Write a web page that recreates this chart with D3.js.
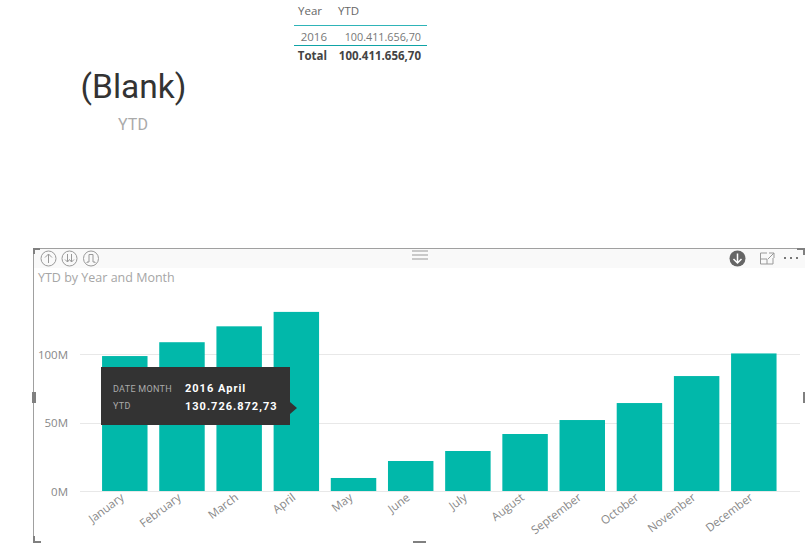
<!DOCTYPE html>
<html>
<head>
<meta charset="utf-8">
<script src="https://cdn.jsdelivr.net/npm/d3@7"></script>
<style>
html, body { margin: 0; padding: 0; background: #fff; overflow: hidden; }
text { font-family: "Open Sans", sans-serif; }
</style>
</head>
<body>
<svg id="chart" width="805" height="543"></svg>
<script>
const months = ["January", "February", "March", "April", "May", "June", "July", "August", "September", "October", "November", "December"];
const ytdValues = [98.5, 108.6, 120.2, 130.73, 9.5, 21.9, 29.2, 41.6, 51.8, 64.2, 83.9, 100.41];
const yTicks = [0, 50, 100];
const tableHeader = ["Year", "YTD"];
const tableRow = ["2016", "100.411.656,70"];
const tableTotal = ["Total", "100.411.656,70"];
const tooltipLabels = ["DATE MONTH", "YTD"];
const tooltipValues = ["2016 April", "130.726.872,73"];

const svg = d3.select("#chart");

const x = d3.scaleBand().domain(months).range([96.2, 782.4]).paddingInner(0.205).paddingOuter(0.1025);
const y = d3.scaleLinear().domain([0, 100]).range([491, 354]);

// Table
const table = svg.append("g");
table.append("text").attr("x", 298).attr("y", 15).attr("font-size", 11.5).attr("fill", "#666").text(tableHeader[0]);
table.append("text").attr("x", 338).attr("y", 15).attr("font-size", 11.5).attr("fill", "#666").text(tableHeader[1]);
table.append("rect").attr("x", 294).attr("width", 133).attr("y", 25).attr("height", 1).attr("fill", "#2fb4b8");
table.append("rect").attr("x", 294).attr("width", 133).attr("y", 45).attr("height", 1).attr("fill", "#0fa3a6");
table.append("text").attr("x", 327).attr("y", 41).attr("text-anchor", "end").attr("font-size", 11.5).attr("fill", "#777").text(tableRow[0]);
table.append("text").attr("x", 421).attr("y", 41).attr("text-anchor", "end").attr("font-size", 10.8).attr("fill", "#777").text(tableRow[1]);
table.append("text").attr("x", 327).attr("y", 60).attr("text-anchor", "end").attr("font-size", 11.5).attr("font-weight", 700).attr("fill", "#444").text(tableTotal[0]);
table.append("text").attr("x", 421).attr("y", 60).attr("text-anchor", "end").attr("font-size", 11.5).attr("font-weight", 700).attr("fill", "#444").text(tableTotal[1]);

// Card
svg.append("text").attr("x", 133.5).attr("y", 98).attr("text-anchor", "middle")
    .attr("font-size", 33.5).attr("fill", "#333").style("font-family", "Roboto, sans-serif").text("(Blank)");
svg.append("text").attr("x", 133).attr("y", 130).attr("text-anchor", "middle")
    .attr("font-size", 16).attr("fill", "#aaa").style("font-family", "Roboto, sans-serif").text("YTD");

// Visual header and frame
svg.append("rect").attr("x", 34).attr("y", 249).attr("width", 771).attr("height", 19).attr("fill", "#f9f9f9");
svg.append("path").attr("d", "M33.5,543V248.5H805").attr("fill", "none").attr("stroke", "#a0a0a0");
svg.append("path").attr("d", "M33,254V248H40V250H35V254Z M33,536H35V541H41V543H33Z M32,392H36V403H32Z").attr("fill", "#808080");
svg.append("path").attr("d", "M797,248H805V255H803V250H797Z M803,392H807V403H803Z M413,541H426V543H413Z").attr("fill", "#808080");
svg.append("path").attr("d", "M412,251H428M412,255H428M412,259H428").attr("stroke", "#999").attr("fill", "none");

const headerIcons = svg.append("g").attr("fill", "none").attr("stroke", "#999");
[48.5, 69.5, 91].forEach(cx => headerIcons.append("circle").attr("cx", cx).attr("cy", 258.5).attr("r", 7.5));
headerIcons.append("path").attr("d", "M48.5,263V254M45,257.5L48.5,254L52,257.5");
headerIcons.append("path").attr("d", "M67.5,254V262M65,259.5L67.5,262L69.5,259.5M71.5,254V262M69.5,259.5L71.5,262L74,259.5");
headerIcons.append("path").attr("d", "M87,263V262H89V254.5H93V262H95V263");

svg.append("circle").attr("cx", 737.5).attr("cy", 258.5).attr("r", 8).attr("fill", "#666");
svg.append("path").attr("d", "M737.5,253.5V263M733.5,259L737.5,263L741.5,259").attr("fill", "none").attr("stroke", "#fff").attr("stroke-width", 1.5);
svg.append("path").attr("d", "M767,253H760.5V264H773V258M767,264V259H760.5M769,253H774V258M774,253L768,259").attr("fill", "none").attr("stroke", "#999");
svg.selectAll(".dot").data([784, 790, 796]).enter().append("rect")
    .attr("class", "dot").attr("x", d => d).attr("y", 257).attr("width", 2).attr("height", 2).attr("fill", "#777");

svg.append("text").attr("x", 38).attr("y", 282).attr("font-size", 12.5).attr("fill", "#a6a6a6").text("YTD by Year and Month");

// Gridlines
svg.selectAll(".grid").data(yTicks).enter().append("line")
    .attr("class", "grid")
    .attr("x1", 80).attr("x2", 800)
    .attr("y1", d => Math.round(y(d)) + 0.5).attr("y2", d => Math.round(y(d)) + 0.5)
    .attr("stroke", "#e8e8e8");

// Y labels
svg.selectAll(".ylabel").data(yTicks).enter().append("text")
    .attr("class", "ylabel")
    .attr("x", 68).attr("y", d => y(d) + 4.5)
    .attr("text-anchor", "end").attr("font-size", 11.5).attr("fill", "#888")
    .text(d => d + "M");

// Bars
svg.selectAll(".bar").data(months).enter().append("rect")
    .attr("class", "bar")
    .attr("x", d => x(d))
    .attr("y", (d, i) => y(ytdValues[i]))
    .attr("width", x.bandwidth())
    .attr("height", (d, i) => y(0) - y(ytdValues[i]))
    .attr("fill", "#01b8aa");

// X labels
svg.selectAll(".xlabel").data(months).enter().append("text")
    .attr("class", "xlabel")
    .attr("text-anchor", "end")
    .attr("font-size", 11.5).attr("fill", "#888")
    .attr("transform", d => `translate(${x(d) + x.bandwidth() / 2},${499}) rotate(-37)`)
    .text(d => d);

// Tooltip
const tip = svg.append("g");
tip.append("path").attr("d", "M101,367H290V402L297,408L290,414V425H101Z").attr("fill", "#333");
tooltipLabels.forEach((t, i) => {
    tip.append("text").attr("x", 113).attr("y", 392 + i * 17).attr("font-size", 9).attr("fill", "#aaa")
        .style("font-family", "Roboto, sans-serif").style("letter-spacing", "0.3px").text(t);
    tip.append("text").attr("x", 185).attr("y", 392 + i * 17.5).attr("font-size", 11).attr("font-weight", 700).attr("fill", "#fff")
        .style("font-family", "Roboto, sans-serif").style("letter-spacing", "1px").text(tooltipValues[i]);
});
</script>
</body>
</html>
